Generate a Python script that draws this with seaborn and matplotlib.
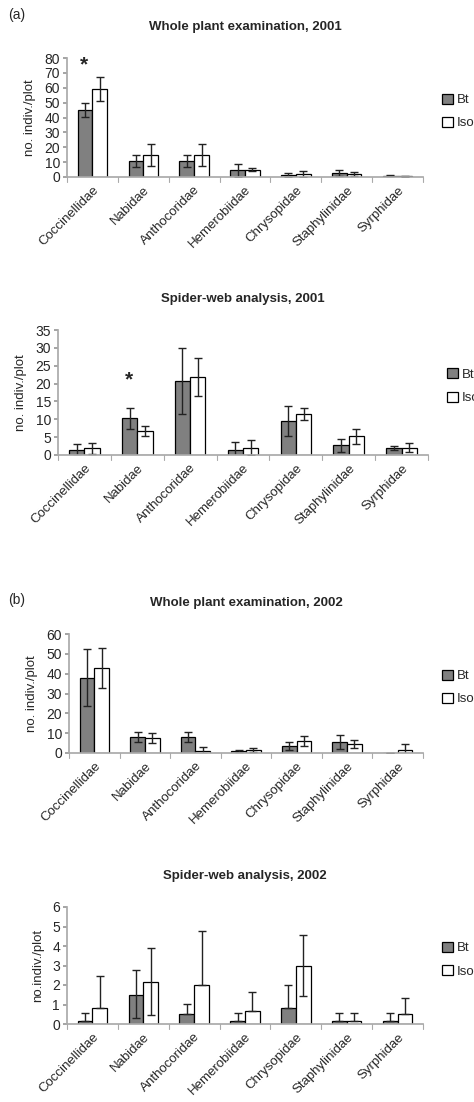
import numpy as np
import pandas as pd
import matplotlib
matplotlib.use("Agg")
import matplotlib.pyplot as plt
import seaborn as sns

sns.set_theme(style="white")
plt.rcParams['font.family'] = ['Liberation Sans', 'DejaVu Sans']

families = ["Coccinellidae", "Nabidae", "Anthocoridae", "Hemerobiidae",
            "Chrysopidae", "Staphylinidae", "Syrphidae"]

# whole plant 2001
wp01_bt = [45, 11, 11, 4.5, 1.5, 2.5, 1.0]
wp01_bt_err = [4.5, 4, 4, 4.5, 1.5, 2, 0.5]
wp01_iso = [59, 15, 15, 5, 2, 2, 0.5]
wp01_iso_err = [8, 7.5, 7.5, 1.2, 1.8, 1.5, 0.3]

# spider web 2001
sw01_bt = [1.5, 10.3, 20.8, 1.5, 9.5, 2.7, 2.0]
sw01_bt_err = [1.7, 3, 9.2, 2.1, 4.2, 1.8, 0.6]
sw01_iso = [1.9, 6.8, 21.8, 2.1, 11.5, 5.2, 2.1]
sw01_iso_err = [1.5, 1.4, 5.3, 2.1, 1.7, 2.2, 1.2]

# whole plant 2002
wp02_bt = [38, 8, 8, 1, 3.5, 5.5, 0.2]
wp02_bt_err = [14.5, 2.5, 2.5, 0.5, 2.2, 3.5, 0]
wp02_iso = [43, 7.5, 1.2, 1.5, 6, 4.5, 1.5]
wp02_iso_err = [10, 2.5, 1.8, 0.8, 2.5, 2.2, 2.8]

# spider web 2002 (upper / lower error separately)
sw02_bt = [0.15, 1.5, 0.5, 0.15, 0.8, 0.15, 0.15]
sw02_bt_up = [0.4, 1.25, 0.55, 0.4, 1.2, 0.4, 0.4]
sw02_bt_lo = [0, 1.2, 0, 0, 0, 0, 0]
sw02_iso = [0.8, 2.15, 2.0, 0.65, 3.0, 0.15, 0.5]
sw02_iso_up = [1.65, 1.75, 2.75, 1.0, 1.55, 0.4, 0.85]
sw02_iso_lo = [0, 1.7, 0, 0, 1.55, 0, 0]

panels = [
    dict(title="Whole plant examination, 2001", bt=wp01_bt, iso=wp01_iso,
         bt_err=(wp01_bt_err, wp01_bt_err), iso_err=(wp01_iso_err, wp01_iso_err),
         ymax=80, step=10, ylabel="no. indiv./plot", star=(0, 72),
         rect=[67, 58, 356, 119]),
    dict(title="Spider-web analysis, 2001", bt=sw01_bt, iso=sw01_iso,
         bt_err=(sw01_bt_err, sw01_bt_err), iso_err=(sw01_iso_err, sw01_iso_err),
         ymax=35, step=5, ylabel="no. indiv./plot", star=(1, 19.5),
         rect=[58, 330, 370, 125]),
    dict(title="Whole plant examination, 2002", bt=wp02_bt, iso=wp02_iso,
         bt_err=(wp02_bt_err, wp02_bt_err), iso_err=(wp02_iso_err, wp02_iso_err),
         ymax=60, step=10, ylabel="no. indiv./plot", star=None,
         rect=[69, 634, 354, 119]),
    dict(title="Spider-web analysis, 2002", bt=sw02_bt, iso=sw02_iso,
         bt_err=(sw02_bt_lo, sw02_bt_up), iso_err=(sw02_iso_lo, sw02_iso_up),
         ymax=6, step=1, ylabel="no.indiv./plot", star=None,
         rect=[67, 907, 356, 117]),
]

W, H = 474, 1102
fig = plt.figure(figsize=(W / 100, H / 100), dpi=100)

for p in panels:
    x0, y0, w, h = p["rect"]
    ax = fig.add_axes([x0 / W, 1 - (y0 + h) / H, w / W, h / H])
    df = pd.DataFrame({
        "family": families * 2,
        "group": ["Bt"] * 7 + ["Iso"] * 7,
        "value": list(p["bt"]) + list(p["iso"]),
    })
    sns.barplot(data=df, x="family", y="value", hue="group", ax=ax,
                palette={"Bt": "#808080", "Iso": "white"}, edgecolor="black",
                linewidth=0.9, width=0.58, errorbar=None)
    # error bars on bar centres
    bars = ax.patches[:14]
    for i, (vals, err) in enumerate([(p["bt"], p["bt_err"]), (p["iso"], p["iso_err"])]):
        xs = [b.get_x() + b.get_width() / 2 for b in bars[i * 7:(i + 1) * 7]]
        ax.errorbar(xs, vals, yerr=[err[0], err[1]], fmt="none", ecolor="#222222",
                    elinewidth=1, capsize=3, capthick=1)
    ax.set_ylim(0, p["ymax"])
    ax.set_yticks(np.arange(0, p["ymax"] + 0.01, p["step"]))
    ax.set_xlim(-0.5, 6.5)
    ax.set_xticks(range(7))
    ax.set_xticklabels(families, rotation=45, ha="right",
                       rotation_mode="anchor", fontsize=9.5)
    ax.tick_params(axis="y", labelsize=10, length=3, left=True, color="#999999", pad=2)
    ax.tick_params(axis="x", length=0, pad=5)
    for k in range(8):
        ax.axvline(k - 0.5, ymin=-0.04, ymax=0, color="#aaaaaa", lw=0.8, clip_on=False)
    ax.set_xlabel("")
    ax.set_ylabel(p["ylabel"], fontsize=9.5, labelpad=6)
    for s in ["top", "right"]:
        ax.spines[s].set_visible(False)
    ax.spines["left"].set_color("#aaaaaa")
    ax.spines["bottom"].set_color("#aaaaaa")
    ax.set_title(p["title"], fontsize=9.5, fontweight="bold", pad=20)
    if p["star"] is not None:
        ax.text(p["star"][0] - 0.16, p["star"][1], "*", ha="center",
                fontsize=15, fontweight="bold")
    ax.legend(loc="center left", bbox_to_anchor=(1.02, 0.55), frameon=False,
              fontsize=9.5, handlelength=0.8, handleheight=0.8, handletextpad=0.3,
              labelspacing=0.8)

fig.text(8 / W, 1 - 15 / H, "(a)", fontsize=10, va="center")
fig.text(8 / W, 1 - 600 / H, "(b)", fontsize=10, va="center")

fig.savefig("out.png", dpi=100)
